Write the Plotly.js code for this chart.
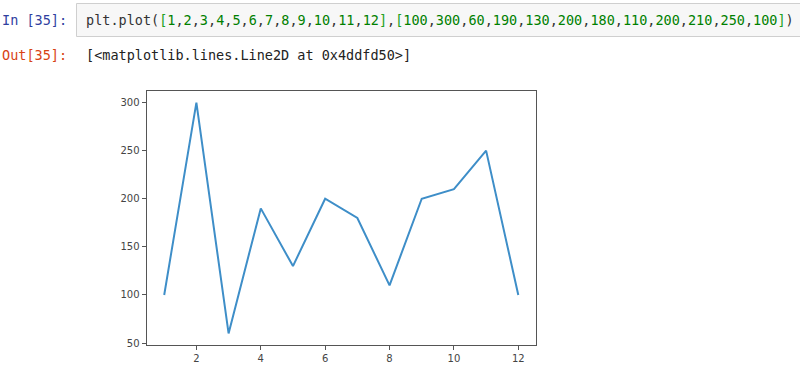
<!DOCTYPE html>
<html>
<head>
<meta charset="utf-8">
<script src="https://cdn.plot.ly/plotly-3.0.1.min.js"></script>
<style>html,body{margin:0;padding:0;background:#fff;}#chart{width:800px;height:372px;}</style>
</head>
<body>
<div id="chart"></div>
<script>
const xValues = [1,2,3,4,5,6,7,8,9,10,11,12];
const yValues = [100,300,60,190,130,200,180,110,200,210,250,100];
const xTicks = [2,4,6,8,10,12];
const yTicks = [50,100,150,200,250,300];
const inPrompt = 'In [35]:';
const outPrompt = 'Out[35]:';
const outText = '[<matplotlib.lines.Line2D at 0x4ddfd50>]';

const W = 800, H = 372;
const px = v => v / W;
const py = v => 1 - v / H;

const G = '#008000', B = '#22a022', D = '#333333';
function listHtml(arr) {
  return '<span style="color:' + B + '">[</span>' +
    arr.map(v => '<span style="color:' + G + '">' + v + '</span>').join('<span style="color:' + D + '">,</span>') +
    '<span style="color:' + B + '">]</span>';
}
const codeHtml = '<span style="color:' + D + '">plt.plot(</span>' + listHtml(xValues) +
  '<span style="color:' + D + '">,</span>' + listHtml(yValues) +
  '<span style="color:' + D + '">)</span>';

const monoFam = 'DejaVu Sans Mono, Liberation Mono, monospace';

const trace = {
  x: xValues, y: yValues, type: 'scatter', mode: 'lines',
  line: {color: 'rgb(62,142,200)', width: 2}, hoverinfo: 'skip'
};

const axisCommon = {
  showgrid: false, zeroline: false, showline: true, mirror: true,
  linecolor: '#555', linewidth: 1, ticks: 'outside', ticklen: 4, tickcolor: '#555',
  tickfont: {family: 'DejaVu Sans, sans-serif', size: 10, color: '#444'}, automargin: false
};

const layout = {
  width: W, height: H,
  margin: {l: 0, r: 0, t: 0, b: 0},
  paper_bgcolor: '#fff', plot_bgcolor: '#fff',
  showlegend: false,
  xaxis: Object.assign({}, axisCommon, {
    domain: [px(146.5), px(536)], range: [0.45, 12.55],
    tickvals: xTicks, ticktext: xTicks.map(String)
  }),
  yaxis: Object.assign({}, axisCommon, {
    domain: [py(345), py(91)], range: [48, 312],
    tickvals: yTicks, ticktext: yTicks.map(String)
  }),
  shapes: [{
    type: 'rect', xref: 'paper', yref: 'paper',
    x0: px(76.5), x1: px(805), y0: py(36.5), y1: py(3.5),
    fillcolor: '#f7f7f7', line: {color: '#cfcfcf', width: 1}, layer: 'below'
  }],
  annotations: [
    {xref: 'paper', yref: 'paper', x: px(69), y: py(20), xanchor: 'right', yanchor: 'middle',
     text: inPrompt, showarrow: false, font: {family: monoFam, size: 13.5, color: '#303F9F'}},
    {xref: 'paper', yref: 'paper', x: px(84), y: py(20), xanchor: 'left', yanchor: 'middle',
     text: codeHtml, showarrow: false, font: {family: monoFam, size: 13.5, color: D}},
    {xref: 'paper', yref: 'paper', x: px(69), y: py(55), xanchor: 'right', yanchor: 'middle',
     text: outPrompt, showarrow: false, font: {family: monoFam, size: 13.5, color: '#D84315'}},
    {xref: 'paper', yref: 'paper', x: px(84), y: py(55), xanchor: 'left', yanchor: 'middle',
     text: outText.replace(/</g, '&lt;').replace(/>/g, '&gt;'), showarrow: false, font: {family: monoFam, size: 13.5, color: '#222'}}
  ]
};

Plotly.newPlot('chart', [trace], layout, {displayModeBar: false, staticPlot: true});
</script>
</body>
</html>
